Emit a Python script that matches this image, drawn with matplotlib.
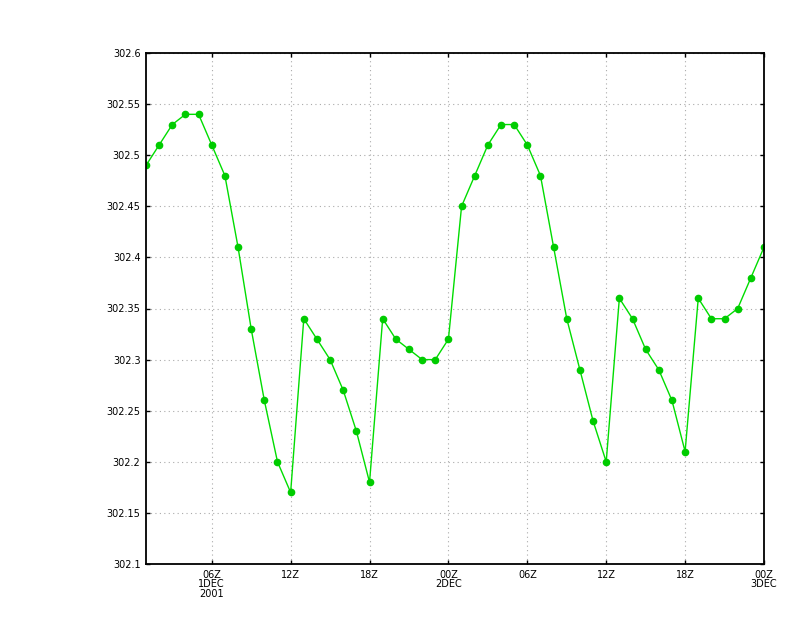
import matplotlib
matplotlib.use("Agg")
import matplotlib.pyplot as plt
import numpy as np

hours = list(range(1, 49))  # hours since 00Z 1DEC2001
values = [302.49,302.51,302.53,302.54,302.54,302.51,302.48,302.41,302.33,302.26,302.20,302.17,
          302.34,302.32,302.30,302.27,302.23,302.18,302.34,302.32,302.31,302.30,302.30,302.32,
          302.45,302.48,302.51,302.53,302.53,302.51,302.48,302.41,302.34,302.29,302.24,302.20,
          302.36,302.34,302.31,302.29,302.26,302.21,302.36,302.34,302.34,302.35,302.38,302.41]
xtick_pos = [6, 12, 18, 24, 30, 36, 42, 48]
xtick_labels = ["06Z\n1DEC\n2001", "12Z", "18Z", "00Z\n2DEC", "06Z", "12Z", "18Z", "00Z\n3DEC"]
yticks = [302.1,302.15,302.2,302.25,302.3,302.35,302.4,302.45,302.5,302.55,302.6]
ytick_labels = ["302.1","302.15","302.2","302.25","302.3","302.35","302.4","302.45","302.5","302.55","302.6"]

fig = plt.figure(figsize=(8, 6.18), dpi=100)
ax = fig.add_axes([146/800, 54/618, 618/800, 511/618])
ax.plot(hours, values, color="#00dd00", lw=1, marker="o", ms=4.5, mfc="#00cc00", mec="#00cc00")
ax.set_xlim(1, 48)
ax.set_ylim(302.1, 302.6)
ax.set_xticks(xtick_pos)
ax.set_xticklabels(xtick_labels, fontsize=7, linespacing=0.95)
ax.set_yticks(yticks)
ax.set_yticklabels(ytick_labels, fontsize=7)
ax.grid(True, color="#aaaaaa", linestyle=(0, (1, 3)), lw=0.8)
ax.tick_params(direction="in", length=3, width=1, pad=4, top=True, right=True)
for s in ax.spines.values():
    s.set_linewidth(1.3)
fig.savefig("out.png", dpi=100)
